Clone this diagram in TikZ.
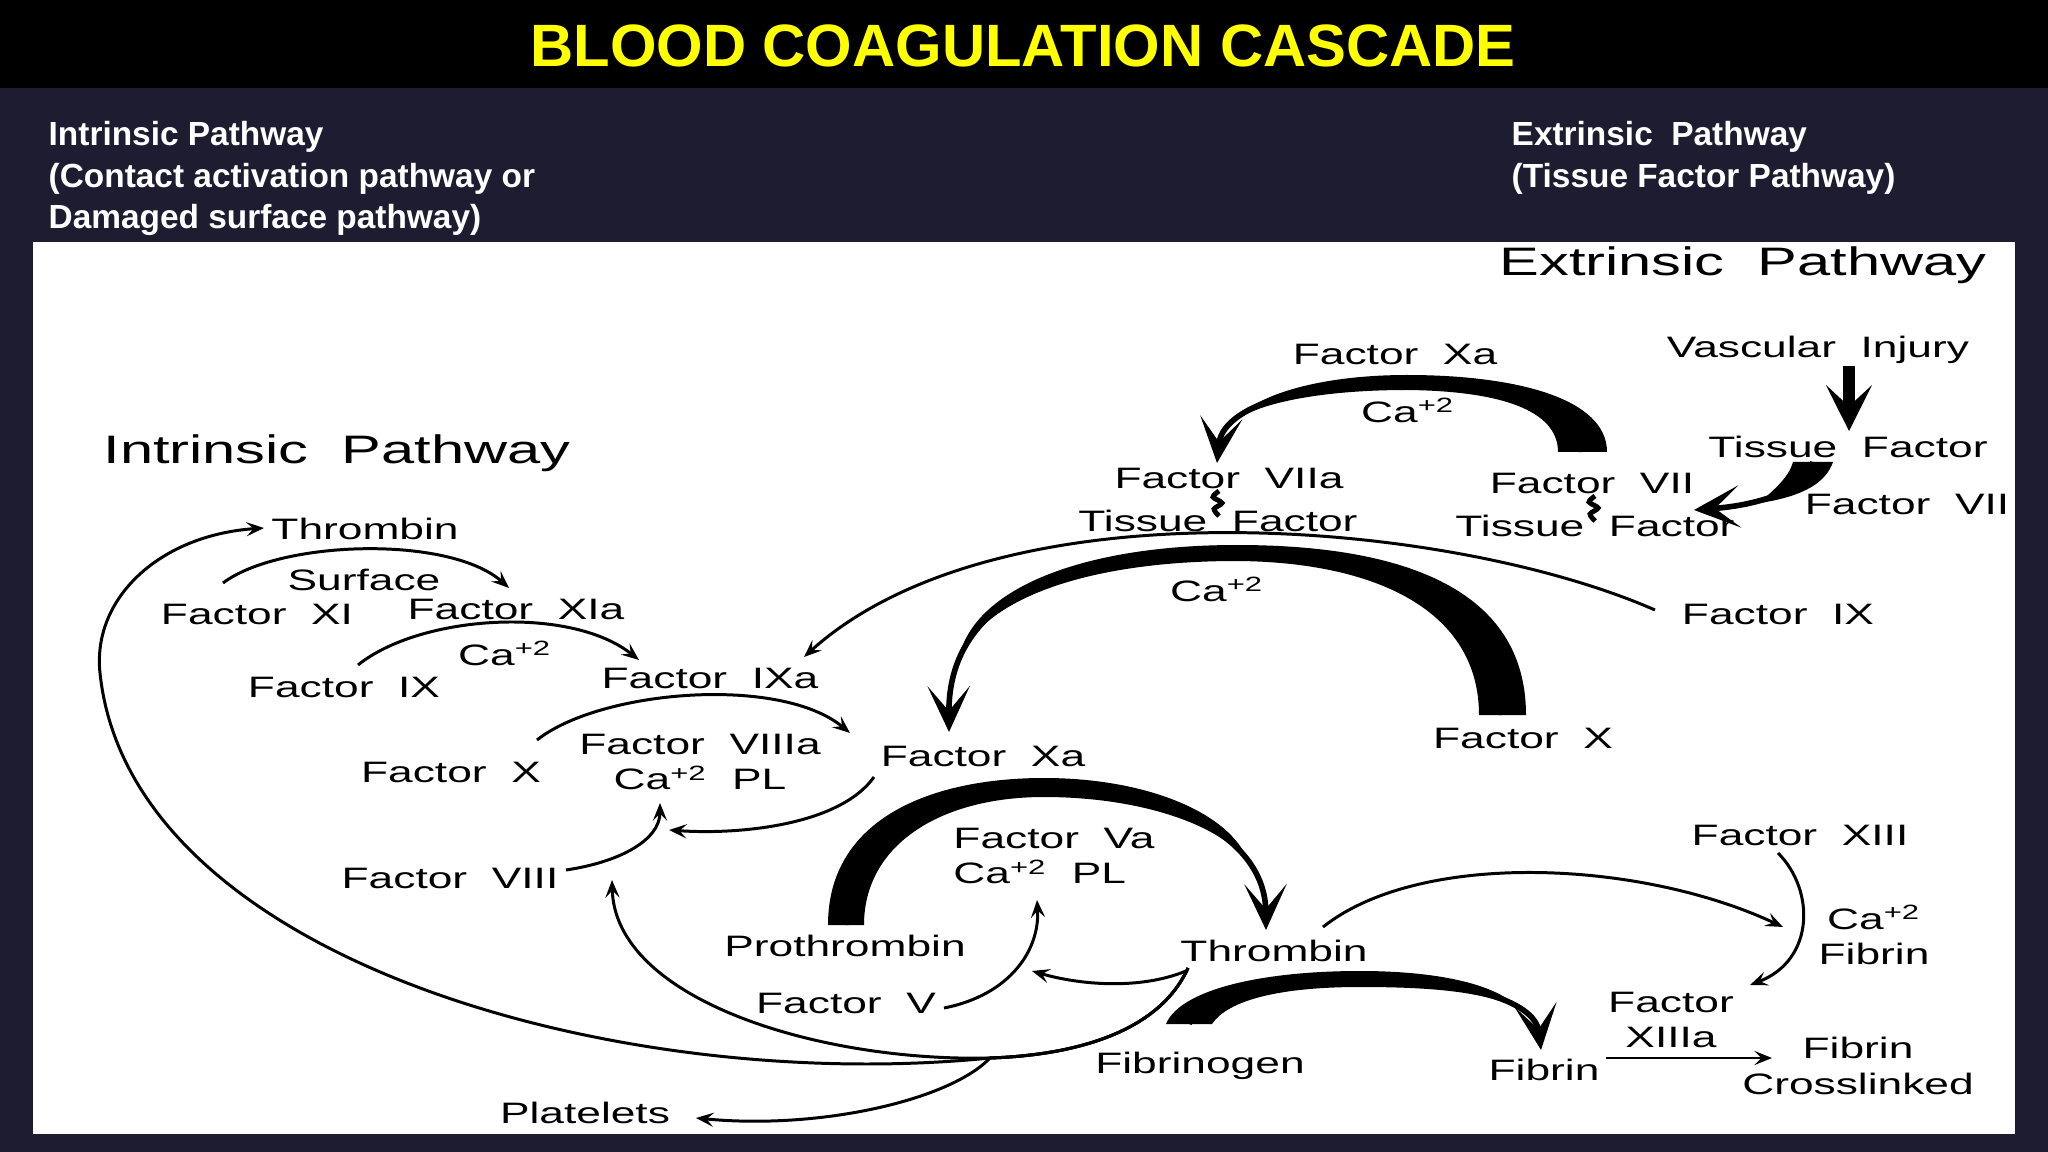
\documentclass[tikz,border=0pt]{standalone}
\usepackage{fontspec}
\usepackage{tikz}
\usetikzlibrary{arrows.meta}
\usetikzlibrary{calc}
\setmainfont{Liberation Sans}
\newfontfamily\diagfont[FakeStretch=1.5,WordSpace=2]{Liberation Sans}
\definecolor{navy}{RGB}{30,28,48}
\definecolor{titleyellow}{RGB}{255,255,0}
\def\ca{Ca\textsuperscript{+2}}

\begin{document}
\begin{tikzpicture}[x=0.01cm, y=-0.01cm,
  txt/.style={font=\diagfont\fontsize{8.4}{10.2}\selectfont, inner sep=0pt, align=center},
  head/.style={font=\diagfont\fontsize{11.3}{13}\selectfont, inner sep=0pt},
  sub/.style={font=\bfseries\fontsize{9.5}{11.8}\selectfont, text=white, align=left, anchor=north west, inner sep=0pt},
  ln/.style={line width=0.85pt},
  arr/.style={ln, -{Stealth[length=5pt,width=4pt,inset=2pt]}},
  bigarr/.style={line width=1.6pt, -{Stealth[length=13pt,width=12pt,inset=7pt]}}]

% background
\useasboundingbox (0,0) rectangle (2048,1152);
\fill[navy] (0,0) rectangle (2048,1152);
\fill[black] (0,0) rectangle (2048,88);
\fill[white] (33,242) rectangle (2015,1134);

% headings
\node[font=\bfseries\fontsize{17}{20}\selectfont, text=titleyellow, inner sep=0pt] (title) at (1023,46) {BLOOD COAGULATION CASCADE};
\node[sub] (intH) at (48,121) {Intrinsic Pathway\\(Contact activation pathway or\\Damaged surface pathway)};
\node[sub] (extH) at (1511,121) {Extrinsic\ \ Pathway\\(Tissue Factor Pathway)};

% extrinsic side
\node[head] (extT) at (1743,265) {Extrinsic Pathway};
\node[txt] (xaTop) at (1395,354) {Factor Xa};
\node[txt] (caTop) at (1408,410) {\ca};
\node[txt] (vasc) at (1818,350) {Vascular Injury};
\node[txt] (tfR) at (1848,447) {Tissue Factor};
\node[txt] (f7a) at (1229,478) {Factor VIIa};
\node[txt] (tf7a) at (1218,521) {Tissue Factor};
\node[txt] (f7) at (1592,483) {Factor VII};
\node[txt] (tf7) at (1595,526) {Tissue Factor};
\node[txt] (f7R) at (1907,504) {Factor VII};
\node[txt] (caMid) at (1217,589) {\ca};
\node[txt] (f9R) at (1778,614) {Factor IX};
\node[txt] (f10R) at (1523,738) {Factor X};

% intrinsic side
\node[head] (intT) at (337,453) {Intrinsic Pathway};
\node[txt] (thrTop) at (365,529) {Thrombin};
\node[txt] (surf) at (364,580) {Surface};
\node[txt] (f11) at (257,614) {Factor XI};
\node[txt] (f11a) at (516,609) {Factor XIa};
\node[txt] (caL) at (505,653) {\ca};
\node[txt] (f9L) at (344,687) {Factor IX};
\node[txt] (f9a) at (710,678) {Factor IXa};
\node[txt] (f8a) at (700,762) {Factor VIIIa\\\ca\ PL};
\node[txt] (f10L) at (451,772) {Factor X};
\node[txt] (f10a) at (983,756) {Factor Xa};
\node[txt] (f8) at (450,878) {Factor VIII};

% common pathway
\node[txt, align=left] (f5a) at (1054,856) {Factor Va\\\ca\ PL};
\node[txt] (prot) at (845,946) {Prothrombin};
\node[txt] (thr) at (1274,951) {Thrombin};
\node[txt] (f5) at (846,1003) {Factor V};
\node[txt] (fbg) at (1200,1066) {Fibrinogen};
\node[txt] (fib) at (1544,1070) {Fibrin};
\node[txt] (f13) at (1800,835) {Factor XIII};
\node[txt] (caR) at (1874,935) {\ca\\Fibrin};
\node[txt] (f13a) at (1671,1020) {Factor\\XIIIa};
\node[txt] (fibX) at (1858,1066) {Fibrin\\Crosslinked};
\node[txt] (plat) at (585,1113) {Platelets};

% squiggles
\draw[line width=1.4pt] plot[smooth] coordinates {(1219,491) (1213,497) (1222,503) (1214,509) (1219,516)};
\draw[line width=1.4pt] plot[smooth] coordinates {(1595,496) (1589,502) (1598,508) (1590,514) (1595,521)};

% intrinsic arrows
\draw[arr] ($(f11)+(-34,-31)$) .. controls (280,540) and (450,535) .. ($(f11a)+(-7,-21)$);
\draw[arr] ($(f9L)+(14,-22)$) .. controls (420,615) and (570,605) .. ($(f9a)+(-71,-18)$);
\draw[arr] ($(f10L)+(86,-32)$) .. controls (600,690) and (780,675) .. ($(f10a)+(-133,-23)$);
\draw[arr] ($(f10a)+(-109,21)$) .. controls (840,825) and (740,835) .. ($(f8a)+(-31,68)$);
\draw[arr] ($(f8)+(116,-8)$) .. controls (620,862) and (660,840) .. ($(f8a)+(-40,41)$);

% thrombin feedback
\coordinate (jct) at (990,1058);
\draw[arr] ($(thr)+(-86,17)$) .. controls (1160,1030) and (1080,1055) .. (jct)
  .. controls (820,1062) and (615,1000) .. ($(f8)+(162,2)$);
\draw[arr] ($(thr)+(-86,17)$) .. controls (1160,1030) and (1080,1055) .. (jct)
  .. controls (620,1095) and (130,960) .. (100,673)
  .. controls (92,598) and (160,535) .. ($(thrTop)+(-101,-1)$);
\draw[arr] ($(thr)+(-86,17)$) .. controls (1160,1030) and (1080,1055) .. (jct)
  .. controls (950,1100) and (820,1130) .. ($(plat)+(111,5)$);
\draw[arr] ($(thr)+(-88,20)$) .. controls (1140,990) and (1080,985) .. ($(f5a)+(-22,115)$);
\draw[arr] ($(f5)+(98,5)$) .. controls (1010,995) and (1040,950) .. ($(f5a)+(-17,44)$);

% extrinsic arrows
\draw[arr] ($(f9R)+(-123,-4)$) .. controls (1450,520) and (1000,480) .. ($(f9a)+(94,-21)$);
\draw[line width=3.5pt, -{Stealth[length=13pt,width=13pt,inset=6pt]}] ($(vasc)+(31,16)$) -- ($(tfR)+(1,-16)$);

% fibrin
\draw[arr] ($(thr)+(49,-24)$) .. controls (1420,850) and (1640,860) .. ($(f13)+(-17,92)$);
\draw[arr] ($(f13)+(-22,18)$) .. controls (1815,890) and (1815,960) .. ($(f13a)+(79,-35)$);
\draw[arr] ($(fib)+(62,-12)$) -- ($(fibX)+(-86,-8)$);

% thick arcs
\fill (1607,452) .. controls (1607,398) and (1515,375) .. (1407,375) .. controls (1320,375) and (1255,395) .. (1236,420)
  .. controls (1262,402) and (1325,390) .. (1407,390) .. controls (1500,391) and (1558,410) .. (1558,452) -- cycle;
\draw[bigarr] ($(f7)+(-10,-31)$) .. controls (1582,395) and (1510,383) .. (1407,383) .. controls (1290,383) and (1222,410) .. ($(f7a)+(-12,-15)$);

\fill (1526,715) .. controls (1526,585) and (1395,545) .. (1237,545) .. controls (1080,545) and (970,590) .. (958,662)
  .. controls (980,600) and (1085,561) .. (1237,561) .. controls (1375,562) and (1479,610) .. (1479,715) -- cycle;
\draw[bigarr] ($(f10R)+(-21,-23)$) .. controls (1502,590) and (1390,553) .. (1237,553) .. controls (1060,553) and (948,600) .. ($(f10a)+(-34,-24)$);

\fill (828,925) .. controls (828,818) and (932,778) .. (1044,778) .. controls (1150,778) and (1235,815) .. (1250,866)
  .. controls (1225,825) and (1140,797) .. (1044,797) .. controls (940,797) and (864,845) .. (864,925) -- cycle;
\draw[bigarr] ($(prot)+(1,-21)$) .. controls (846,820) and (940,787) .. (1044,787) .. controls (1165,789) and (1265,835) .. ($(thr)+(-8,-21)$);

\fill (1166,1024) .. controls (1180,990) and (1260,971) .. (1360,971) .. controls (1440,971) and (1500,985) .. (1520,1010)
  .. controls (1490,993) and (1440,987) .. (1360,987) .. controls (1280,987) and (1228,1000) .. (1212,1024) -- cycle;
\draw[bigarr] ($(fbg)+(-11,-42)$) .. controls (1200,992) and (1270,979) .. (1360,979) .. controls (1460,979) and (1535,1000) .. ($(fib)+(-3,-20)$);

\fill (1833,462) .. controls (1826,482) and (1805,496) .. (1760,503) .. controls (1770,492) and (1788,480) .. (1793,462) -- cycle;
\draw[bigarr] ($(tfR)+(-35,15)$) .. controls (1806,490) and (1760,505) .. ($(f7)+(102,27)$);

\end{tikzpicture}
\end{document}
